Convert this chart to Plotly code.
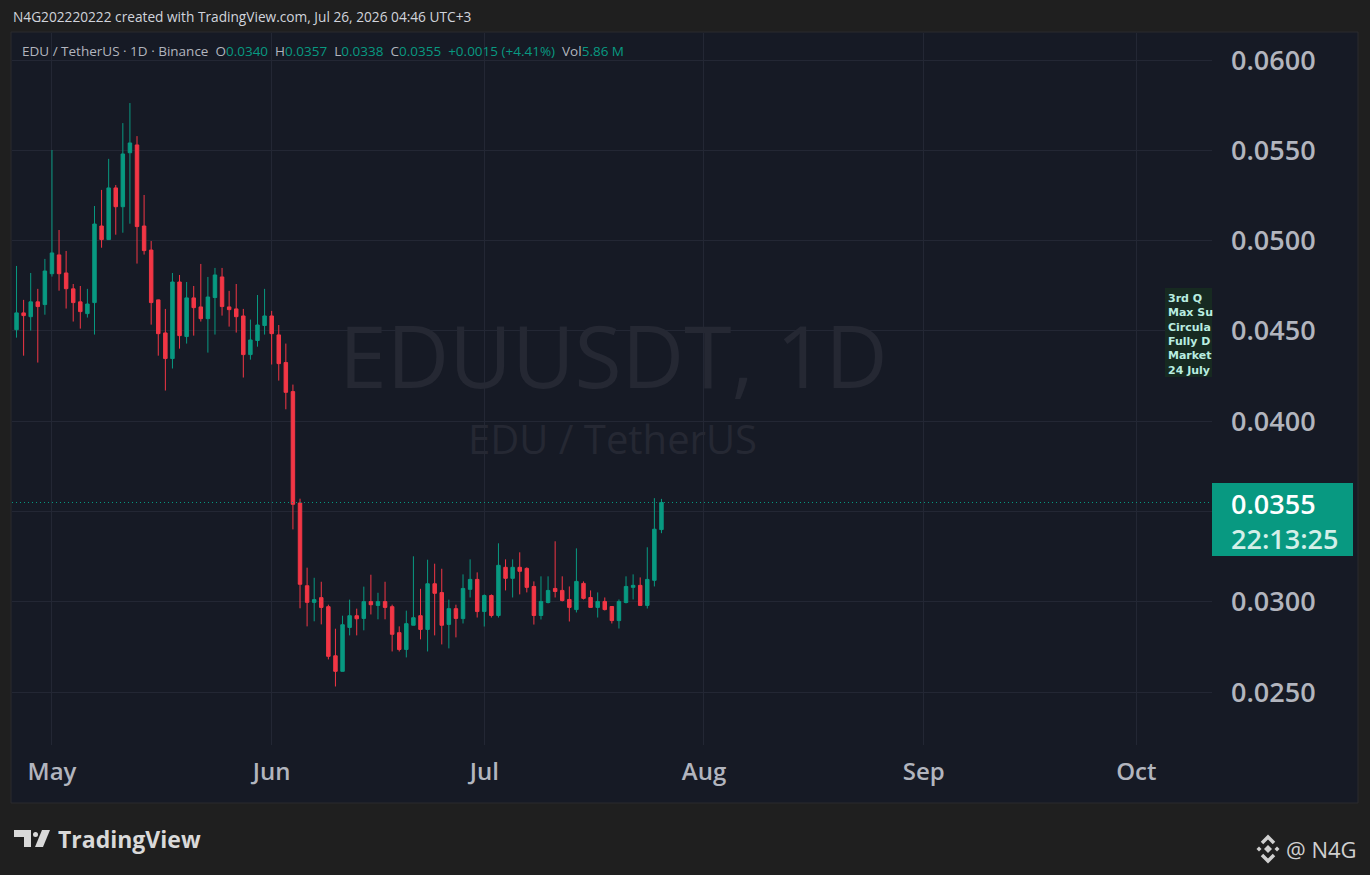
import pandas as pd
import plotly.graph_objects as go

# daily EDU/USDT candles, 26 Apr - 26 Jul 2026
start_date = "2026-04-26"
opens = [0.04507, 0.04600, 0.04579, 0.04661, 0.04646,
         0.04817, 0.04921, 0.04821, 0.04733, 0.04661, 0.04596, 0.04657, 0.05081, 0.05006, 0.05292,
         0.05188, 0.05487, 0.05530, 0.05081, 0.04948, 0.04672, 0.04489, 0.04347, 0.04771, 0.04469,
         0.04683, 0.04633, 0.04568, 0.04685, 0.04799, 0.04633, 0.04622, 0.04583, 0.04369, 0.04447,
         0.04530,
         0.04583, 0.04478, 0.04325, 0.04164, 0.03547, 0.03089, 0.02997, 0.03023, 0.02973, 0.02701,
         0.02615, 0.02858, 0.02923, 0.02908, 0.03001, 0.02980, 0.03001, 0.02973, 0.02829, 0.02736,
         0.02870, 0.02923, 0.02847, 0.03100, 0.03051, 0.02875, 0.02962, 0.02907, 0.03069, 0.03124,
         0.02946, 0.03035, 0.02924, 0.03191, 0.03130, 0.03191, 0.03185, 0.03085, 0.02924, 0.02996,
         0.03074, 0.03063, 0.03013, 0.02957, 0.03102, 0.03024, 0.02969, 0.03002, 0.02974, 0.02896,
         0.02996, 0.03080, 0.03091, 0.02980, 0.03119, 0.03400]
highs = [0.04860, 0.04672, 0.04821, 0.04733, 0.04899,
         0.05502, 0.05059, 0.04943, 0.04760, 0.04749, 0.04733, 0.05192, 0.05281, 0.05453, 0.05308,
         0.05651, 0.05762, 0.05579, 0.05253, 0.04998, 0.04674, 0.04622, 0.04821, 0.04810, 0.04771,
         0.04749, 0.04871, 0.04799, 0.04849, 0.04849, 0.04722, 0.04760, 0.04622, 0.04563, 0.04699,
         0.04733,
         0.04611, 0.04533, 0.04430, 0.04203, 0.03571, 0.03189, 0.03133, 0.03111, 0.02984, 0.02851,
         0.02923, 0.03012, 0.02962, 0.03084, 0.03150, 0.03050, 0.03111, 0.02984, 0.02864, 0.02951,
         0.03252, 0.03072, 0.03233, 0.03211, 0.03183, 0.03012, 0.02984, 0.03152, 0.03235, 0.03163,
         0.03041, 0.03041, 0.03324, 0.03235, 0.03235, 0.03274, 0.03191, 0.03113, 0.03141, 0.03141,
         0.03335, 0.03141, 0.03085, 0.03296, 0.03113, 0.03063, 0.03052, 0.03024, 0.02974, 0.03013,
         0.03141, 0.03152, 0.03135, 0.03302, 0.03574, 0.03570]
lows = [0.04463, 0.04363, 0.04502, 0.04325, 0.04590,
        0.04801, 0.04723, 0.04624, 0.04552, 0.04513, 0.04574, 0.04480, 0.04961, 0.05006, 0.05033,
        0.05044, 0.05094, 0.04873, 0.04923, 0.04535, 0.04363, 0.04170, 0.04292, 0.04402, 0.04430,
        0.04474, 0.04552, 0.04380, 0.04480, 0.04585, 0.04524, 0.04491, 0.04242, 0.04341, 0.04413,
        0.04480,
        0.04314, 0.04225, 0.04066, 0.03401, 0.02964, 0.02864, 0.02892, 0.02875, 0.02681, 0.02531,
        0.02615, 0.02814, 0.02814, 0.02842, 0.02930, 0.02903, 0.02903, 0.02725, 0.02725, 0.02692,
        0.02870, 0.02792, 0.02725, 0.02814, 0.02764, 0.02742, 0.02803, 0.02880, 0.03024, 0.02913,
        0.02863, 0.02913, 0.02913, 0.03063, 0.03024, 0.03041, 0.03052, 0.02874, 0.02902, 0.02991,
        0.03024, 0.03002, 0.02891, 0.02941, 0.03013, 0.02969, 0.02913, 0.02952, 0.02880, 0.02852,
        0.02991, 0.03013, 0.02980, 0.02963, 0.03085, 0.03380]
closes = [0.04600, 0.04585, 0.04661, 0.04635, 0.04832,
          0.04932, 0.04817, 0.04734, 0.04657, 0.04607, 0.04649, 0.05092, 0.05006, 0.05292, 0.05188,
          0.05480, 0.05541, 0.05078, 0.04945, 0.04657, 0.04485, 0.04347, 0.04771, 0.04474, 0.04683,
          0.04629, 0.04568, 0.04688, 0.04810, 0.04635, 0.04618, 0.04579, 0.04369, 0.04450, 0.04533,
          0.04583,
          0.04485, 0.04319, 0.04160, 0.03540, 0.03097, 0.02997, 0.03012, 0.02969, 0.02698, 0.02615,
          0.02873, 0.02923, 0.02906, 0.03001, 0.02984, 0.03001, 0.02969, 0.02820, 0.02736, 0.02879,
          0.02912, 0.02847, 0.03100, 0.03047, 0.02870, 0.02962, 0.02908, 0.03074, 0.03124, 0.02946,
          0.03035, 0.02924, 0.03202, 0.03130, 0.03191, 0.03169, 0.03080, 0.02924, 0.03002, 0.03063,
          0.03057, 0.03007, 0.02969, 0.03113, 0.03019, 0.02969, 0.03002, 0.02957, 0.02896, 0.03002,
          0.03085, 0.03091, 0.02980, 0.03124, 0.03402, 0.03550]

month_ticks = ["2026-05-01", "2026-06-01", "2026-07-01", "2026-08-01", "2026-09-01", "2026-10-01"]
month_labels = ["May", "Jun", "Jul", "Aug", "Sep", "Oct"]
price_ticks = [0.025, 0.030, 0.035, 0.040, 0.045, 0.050, 0.055, 0.060]
# 0.0350 label is hidden under the last-price box
price_labels = ["0.0250", "0.0300", "", "0.0400", "0.0450", "0.0500", "0.0550", "0.0600"]
last_price = 0.0355

dates = pd.date_range(start_date, periods=len(opens), freq="D")

UP = "#089981"
DOWN = "#f23645"
PANEL = "#161a25"
OUTER = "#1f1f1f"
GRID = "#232734"
TXT = "#b2b5be"

# plot area in pixels
L, R, T, B = 12, 1212, 33, 745
def px(x):
    return (x - L) / (R - L)
def py(y):
    return (B - y) / (B - T)

fig = go.Figure()
fig.add_trace(go.Candlestick(
    x=dates, open=opens, high=highs, low=lows, close=closes,
    increasing=dict(line=dict(color=UP, width=1), fillcolor=UP),
    decreasing=dict(line=dict(color=DOWN, width=1), fillcolor=DOWN),
    whiskerwidth=0, showlegend=False, hoverinfo="x+y"))

shapes = []
# inner chart panel
shapes.append(dict(type="rect", xref="paper", yref="paper", layer="below",
                   x0=px(11), x1=px(1358), y0=py(803), y1=py(32),
                   fillcolor=PANEL, line=dict(color="#2a2a2e", width=1)))
# last price dotted line
shapes.append(dict(type="line", xref="paper", yref="y", x0=0, x1=1,
                   y0=last_price, y1=last_price, line=dict(color=UP, width=1, dash="1px,3px")))
# last price label box
shapes.append(dict(type="rect", xref="paper", yref="paper",
                   x0=px(1212), x1=px(1353), y0=py(556), y1=py(483),
                   fillcolor=UP, line=dict(width=0)))
# info box
shapes.append(dict(type="rect", xref="paper", yref="paper",
                   x0=px(1165), x1=px(1212), y0=py(377), y1=py(288),
                   fillcolor="#172a21", line=dict(width=0)))
# TradingView logo
shapes.append(dict(type="path", xref="paper", yref="paper",
                   path="M %f,%f L %f,%f L %f,%f L %f,%f L %f,%f L %f,%f Z" % (
                       px(14), py(830), px(31), py(830), px(31), py(847),
                       px(24), py(847), px(24), py(837), px(14), py(837)),
                   fillcolor="#d9d9d9", line=dict(width=0)))
shapes.append(dict(type="circle", xref="paper", yref="paper",
                   x0=px(33), x1=px(38), y0=py(837), y1=py(832),
                   fillcolor="#d9d9d9", line=dict(width=0)))
shapes.append(dict(type="path", xref="paper", yref="paper",
                   path="M %f,%f L %f,%f L %f,%f L %f,%f Z" % (
                       px(42), py(830), px(50), py(830), px(43), py(847), px(35), py(847)),
                   fillcolor="#d9d9d9", line=dict(width=0)))
# Binance logo
cx, cy = 1268, 849
for dx, s in [(0, 4), (-9, 2.5), (9, 2.5)]:
    shapes.append(dict(type="path", xref="paper", yref="paper",
                       path="M %f,%f L %f,%f L %f,%f L %f,%f Z" % (
                           px(cx + dx), py(cy - s), px(cx + dx + s), py(cy),
                           px(cx + dx), py(cy + s), px(cx + dx - s), py(cy)),
                       fillcolor="#d0d0d0", line=dict(width=0)))
for sgn in [-1, 1]:
    shapes.append(dict(type="path", xref="paper", yref="paper",
                       path="M %f,%f L %f,%f L %f,%f" % (
                           px(cx - 6), py(cy + sgn * 6), px(cx), py(cy + sgn * 12),
                           px(cx + 6), py(cy + sgn * 6)),
                       line=dict(color="#d0d0d0", width=3.5)))

g = "color:%s" % UP
legend_txt = ("EDU / TetherUS · 1D · Binance  O<span style='%s'>0.0340</span>  "
              "H<span style='%s'>0.0357</span>  L<span style='%s'>0.0338</span>  "
              "C<span style='%s'>0.0355</span>  <span style='%s'>+0.0015 (+4.41%%)</span>  "
              "Vol<span style='%s'>5.86 M</span>") % (g, g, g, g, g, g)

def ann(x, y, text, size, color, xanchor="left", family="Open Sans", weight=400):
    return dict(x=px(x), y=py(y), xref="paper", yref="paper", text=text, showarrow=False,
                xanchor=xanchor, yanchor="middle",
                font=dict(size=size, color=color, family=family, weight=weight))

annotations = [
    ann(11, 17, "N4G202220222 created with TradingView.com, Jul 26, 2026 04:46 UTC+3", 13.7, "#d1d4dc"),
    ann(20, 51, legend_txt, 13.5, TXT),
    ann(613, 354, "EDUUSDT, 1D", 86, "#252833", xanchor="center"),
    ann(612, 438, "EDU / TetherUS", 40, "#252833", xanchor="center"),
    ann(1229, 503, "0.0355", 27, "#ffffff", weight=600),
    ann(1229, 538, "22:13:25", 27, "#d3efe8", weight=600),
    dict(x=px(1166), y=py(290), xref="paper", yref="paper", showarrow=False,
         text="<b>3rd Q<br>Max Su<br>Circula<br>Fully D<br>Market<br>24 July</b>",
         xanchor="left", yanchor="top", align="left",
         font=dict(size=11, color="#b9ede0", family="DejaVu Sans")),
    ann(56, 839, "<b>TradingView</b>", 23, "#d9d9d9"),
    ann(1284, 849, "@ N4G", 22, "#d0d0d0"),
]

fig.update_layout(
    width=1370, height=875,
    margin=dict(l=L, r=1370 - R, t=T, b=875 - B),
    paper_bgcolor=OUTER, plot_bgcolor=PANEL,
    shapes=shapes, annotations=annotations,
    font=dict(family="Open Sans", color=TXT),
    xaxis=dict(type="date", range=["2026-04-25 08:40", "2026-10-11 16:20"],
               rangeslider=dict(visible=False),
               tickvals=month_ticks, ticktext=month_labels,
               tickfont=dict(size=24, color=TXT, family="Open Sans", weight=600),
               showgrid=True, gridcolor=GRID, gridwidth=1,
               zeroline=False, showline=False, ticks="", ticklabelstandoff=10),
    yaxis=dict(side="right", range=[0.02207, 0.0615],
               tickvals=price_ticks, ticktext=price_labels,
               tickfont=dict(size=27, color=TXT, family="Open Sans", weight=600),
               showgrid=True, gridcolor=GRID, gridwidth=1,
               zeroline=False, showline=False, ticks="", ticklabelstandoff=18),
)

# page body margin off so the figure sits at the window corner
fig.write_html("out.html", config=dict(displayModeBar=False),
               post_script="document.body.style.margin='0';document.body.style.background='%s';" % OUTER)
